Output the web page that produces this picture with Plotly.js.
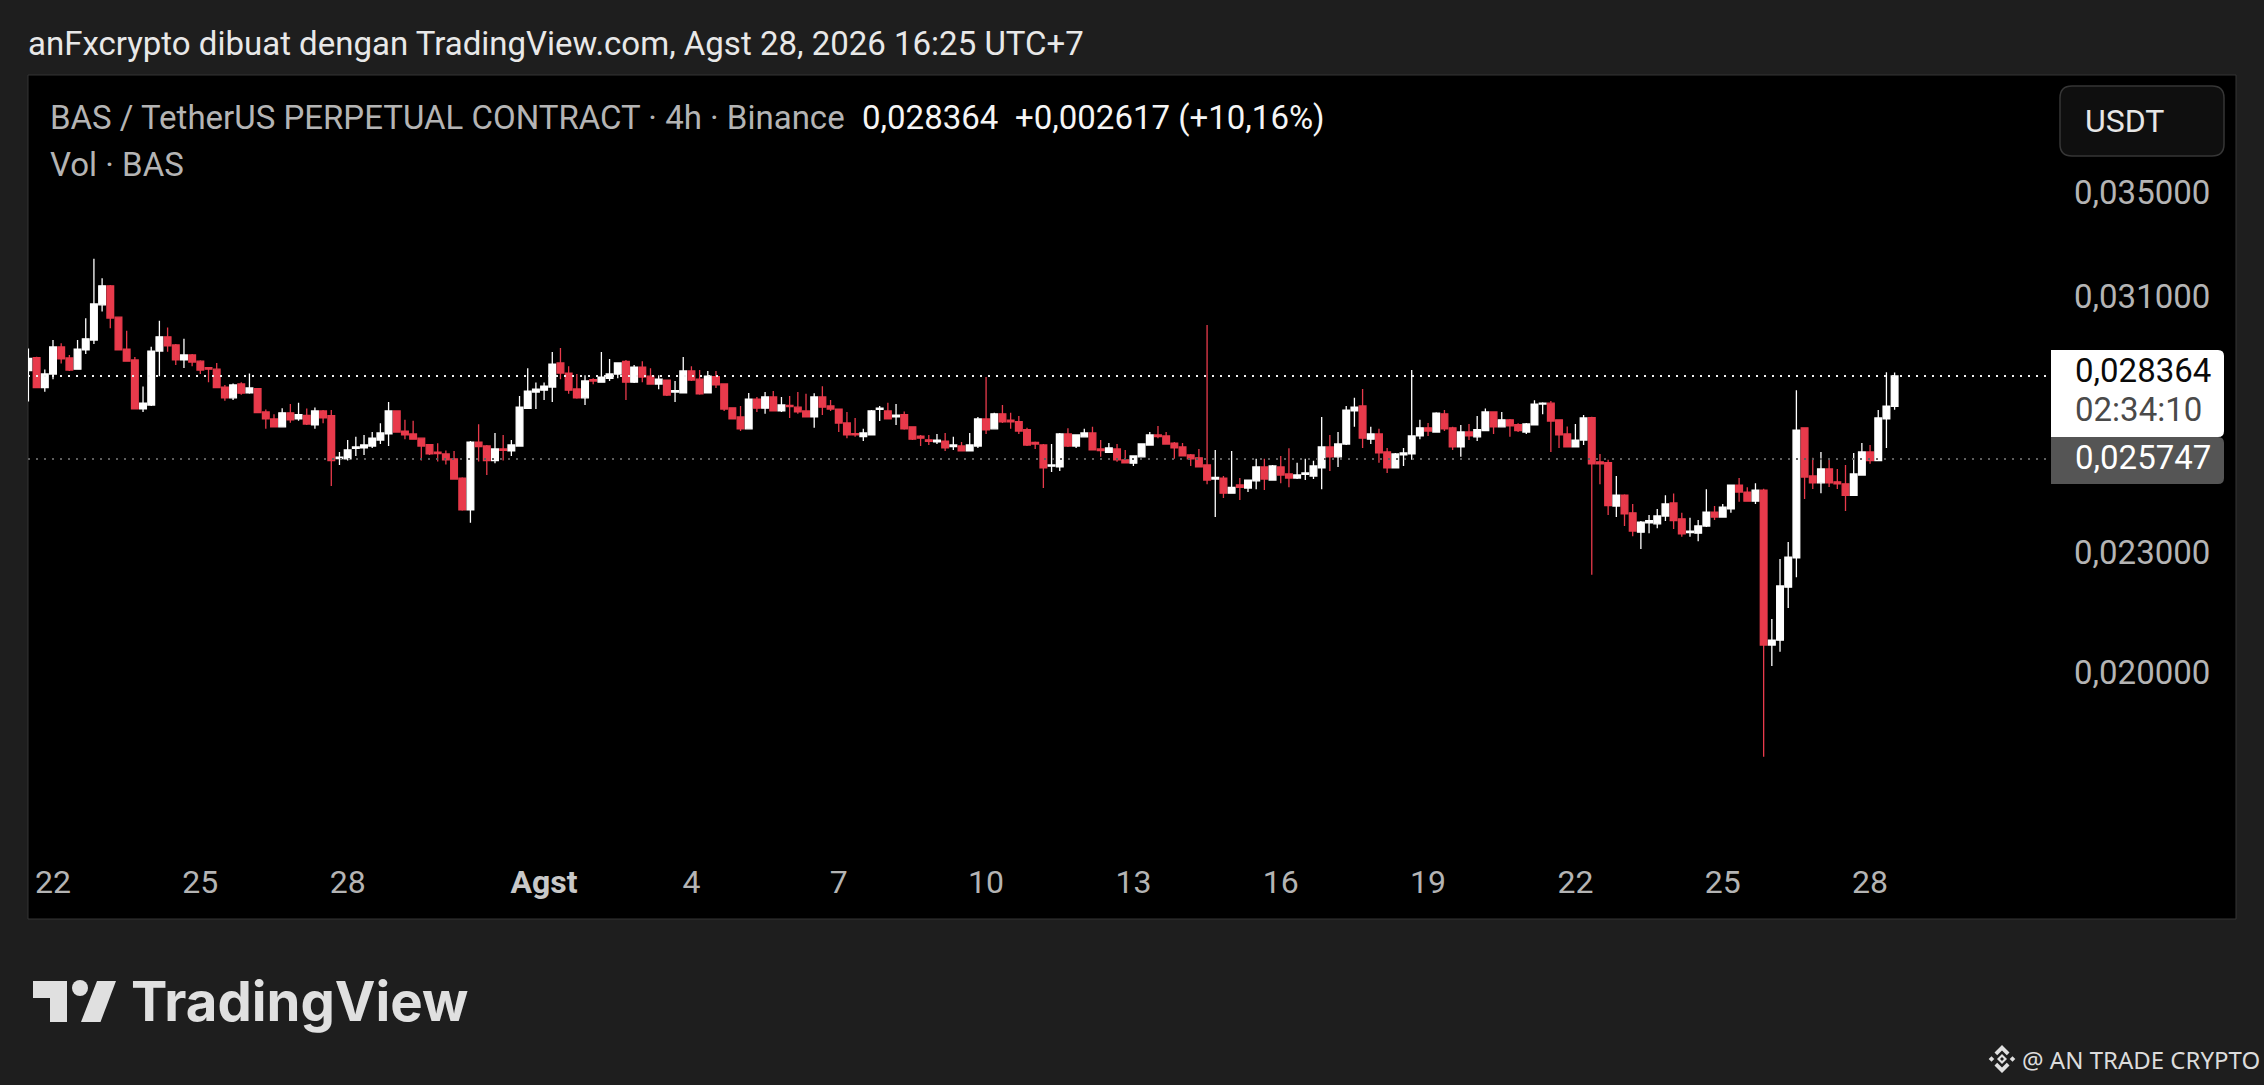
<!DOCTYPE html>
<html>
<head>
<meta charset="utf-8">
<script src="https://cdn.plot.ly/plotly-3.0.0.min.js"></script>
<style>html,body{margin:0;padding:0;background:#1e1e1e;overflow:hidden}</style>
</head>
<body>
<div id="chart" style="width:2264px;height:1085px"></div>
<script>
const opens = [0.02854,0.02898,0.02798,0.02843,0.02934,0.02897,0.02859,0.02924,0.02958,0.03082,
0.03151,0.03038,0.02927,0.02890,0.02730,0.02742,0.02920,0.02969,0.02941,0.02890,
0.02907,0.02886,0.02864,0.02859,0.02800,0.02765,0.02810,0.02781,0.02795,0.02720,
0.02698,0.02673,0.02717,0.02698,0.02709,0.02679,0.02723,0.02708,0.02576,0.02575,
0.02607,0.02608,0.02614,0.02632,0.02651,0.02723,0.02660,0.02651,0.02638,0.02618,
0.02595,0.02590,0.02575,0.02518,0.02426,0.02626,0.02614,0.02570,0.02605,0.02599,
0.02614,0.02731,0.02784,0.02790,0.02800,0.02880,0.02846,0.02794,0.02765,0.02824,
0.02816,0.02829,0.02843,0.02885,0.02816,0.02866,0.02836,0.02810,0.02823,0.02784,
0.02781,0.02853,0.02826,0.02781,0.02834,0.02810,0.02733,0.02704,0.02667,0.02761,
0.02732,0.02768,0.02723,0.02741,0.02735,0.02723,0.02704,0.02768,0.02739,0.02729,
0.02685,0.02652,0.02643,0.02648,0.02728,0.02723,0.02704,0.02711,0.02673,0.02644,
0.02633,0.02627,0.02629,0.02612,0.02614,0.02599,0.02614,0.02698,0.02667,0.02714,
0.02694,0.02689,0.02664,0.02625,0.02617,0.02553,0.02551,0.02651,0.02614,0.02642,
0.02654,0.02605,0.02595,0.02605,0.02572,0.02562,0.02581,0.02617,0.02648,0.02645,
0.02623,0.02611,0.02587,0.02578,0.02557,0.02515,0.02518,0.02474,0.02498,0.02489,
0.02510,0.02551,0.02512,0.02551,0.02530,0.02518,0.02529,0.02524,0.02548,0.02611,
0.02581,0.02620,0.02723,0.02739,0.02635,0.02651,0.02596,0.02548,0.02587,0.02590,
0.02645,0.02670,0.02657,0.02714,0.02670,0.02611,0.02657,0.02642,0.02661,0.02720,
0.02673,0.02695,0.02680,0.02657,0.02679,0.02745,0.02748,0.02695,0.02651,0.02611,
0.02632,0.02702,0.02566,0.02564,0.02437,0.02468,0.02418,0.02364,0.02390,0.02387,
0.02409,0.02446,0.02401,0.02363,0.02361,0.02381,0.02420,0.02406,0.02429,0.02497,
0.02477,0.02451,0.02483,0.02072,0.02084,0.02217,0.02294,0.02670,0.02524,0.02504,
0.02545,0.02507,0.02501,0.02468,0.02527,0.02596,0.02570,0.02698,0.02738];

const closes = [0.02895,0.02798,0.02843,0.02934,0.02894,0.02856,0.02927,0.02962,0.03085,0.03151,
0.03035,0.02924,0.02886,0.02730,0.02748,0.02920,0.02969,0.02938,0.02890,0.02907,
0.02883,0.02856,0.02859,0.02798,0.02765,0.02807,0.02780,0.02797,0.02718,0.02698,
0.02673,0.02717,0.02695,0.02711,0.02682,0.02723,0.02701,0.02570,0.02580,0.02602,
0.02611,0.02617,0.02638,0.02654,0.02723,0.02657,0.02648,0.02635,0.02614,0.02590,
0.02591,0.02572,0.02515,0.02426,0.02626,0.02612,0.02570,0.02605,0.02601,0.02617,
0.02735,0.02787,0.02793,0.02803,0.02876,0.02846,0.02790,0.02765,0.02820,0.02820,
0.02833,0.02843,0.02880,0.02816,0.02866,0.02833,0.02810,0.02826,0.02774,0.02788,
0.02853,0.02823,0.02778,0.02836,0.02807,0.02729,0.02698,0.02667,0.02761,0.02732,
0.02768,0.02723,0.02742,0.02737,0.02720,0.02704,0.02768,0.02735,0.02729,0.02685,
0.02648,0.02648,0.02654,0.02723,0.02732,0.02698,0.02710,0.02667,0.02635,0.02638,
0.02628,0.02632,0.02608,0.02617,0.02599,0.02617,0.02698,0.02664,0.02714,0.02689,
0.02689,0.02660,0.02617,0.02620,0.02548,0.02557,0.02651,0.02614,0.02648,0.02654,
0.02602,0.02600,0.02608,0.02572,0.02563,0.02584,0.02620,0.02648,0.02643,0.02620,
0.02608,0.02584,0.02575,0.02551,0.02512,0.02520,0.02474,0.02491,0.02491,0.02512,
0.02551,0.02515,0.02554,0.02527,0.02518,0.02527,0.02533,0.02554,0.02611,0.02581,
0.02620,0.02726,0.02735,0.02638,0.02651,0.02593,0.02548,0.02590,0.02593,0.02645,
0.02670,0.02660,0.02716,0.02667,0.02611,0.02657,0.02645,0.02664,0.02720,0.02673,
0.02695,0.02676,0.02661,0.02682,0.02745,0.02748,0.02691,0.02648,0.02611,0.02632,
0.02701,0.02560,0.02560,0.02438,0.02468,0.02415,0.02367,0.02392,0.02396,0.02409,
0.02443,0.02396,0.02359,0.02367,0.02381,0.02420,0.02406,0.02434,0.02497,0.02477,
0.02451,0.02483,0.02072,0.02084,0.02220,0.02296,0.02663,0.02521,0.02504,0.02545,
0.02504,0.02501,0.02468,0.02530,0.02596,0.02570,0.02701,0.02738,0.028364];

const highs = [0.02929,0.02901,0.02858,0.02958,0.02947,0.02907,0.02958,0.03034,0.03252,0.03179,
0.03154,0.03038,0.02990,0.02900,0.02802,0.02935,0.03025,0.03002,0.02944,0.02962,
0.02910,0.02889,0.02865,0.02880,0.02807,0.02812,0.02816,0.02845,0.02796,0.02728,
0.02713,0.02732,0.02745,0.02749,0.02731,0.02734,0.02726,0.02726,0.02596,0.02632,
0.02642,0.02648,0.02657,0.02684,0.02752,0.02725,0.02695,0.02692,0.02640,0.02620,
0.02622,0.02600,0.02599,0.02520,0.02629,0.02681,0.02617,0.02654,0.02648,0.02632,
0.02771,0.02862,0.02815,0.02815,0.02917,0.02931,0.02869,0.02843,0.02839,0.02829,
0.02917,0.02893,0.02880,0.02890,0.02873,0.02886,0.02862,0.02839,0.02823,0.02820,
0.02900,0.02869,0.02856,0.02853,0.02853,0.02810,0.02735,0.02739,0.02781,0.02768,
0.02784,0.02787,0.02768,0.02771,0.02784,0.02778,0.02780,0.02803,0.02758,0.02729,
0.02720,0.02701,0.02667,0.02726,0.02739,0.02749,0.02745,0.02721,0.02673,0.02648,
0.02648,0.02651,0.02654,0.02642,0.02626,0.02654,0.02704,0.02833,0.02717,0.02742,
0.02717,0.02707,0.02670,0.02628,0.02620,0.02620,0.02654,0.02669,0.02648,0.02667,
0.02673,0.02632,0.02623,0.02620,0.02602,0.02584,0.02622,0.02657,0.02676,0.02657,
0.02626,0.02623,0.02590,0.02605,0.03010,0.02602,0.02524,0.02599,0.02518,0.02512,
0.02575,0.02575,0.02557,0.02584,0.02607,0.02563,0.02575,0.02569,0.02704,0.02648,
0.02657,0.02739,0.02765,0.02794,0.02673,0.02667,0.02608,0.02593,0.02608,0.02856,
0.02695,0.02685,0.02719,0.02726,0.02673,0.02679,0.02682,0.02707,0.02731,0.02720,
0.02720,0.02698,0.02684,0.02685,0.02757,0.02751,0.02755,0.02695,0.02674,0.02682,
0.02710,0.02705,0.02590,0.02572,0.02524,0.02471,0.02443,0.02395,0.02412,0.02429,
0.02468,0.02473,0.02418,0.02404,0.02398,0.02485,0.02437,0.02443,0.02497,0.02518,
0.02491,0.02503,0.02487,0.02136,0.02291,0.02337,0.02790,0.02670,0.02578,0.02596,
0.02572,0.02545,0.02557,0.02593,0.02623,0.02617,0.02726,0.02849,0.02848];

const lows = [0.02753,0.02798,0.02785,0.02826,0.02878,0.02853,0.02859,0.02910,0.02944,0.03058,
0.02999,0.02924,0.02886,0.02730,0.02720,0.02739,0.02836,0.02918,0.02873,0.02863,
0.02869,0.02843,0.02816,0.02798,0.02756,0.02758,0.02775,0.02778,0.02718,0.02667,
0.02671,0.02673,0.02686,0.02692,0.02679,0.02667,0.02684,0.02495,0.02557,0.02570,
0.02584,0.02587,0.02608,0.02620,0.02614,0.02657,0.02635,0.02635,0.02570,0.02587,
0.02567,0.02558,0.02515,0.02424,0.02390,0.02567,0.02527,0.02562,0.02570,0.02584,
0.02614,0.02729,0.02729,0.02758,0.02752,0.02826,0.02778,0.02762,0.02742,0.02809,
0.02816,0.02820,0.02829,0.02758,0.02813,0.02816,0.02810,0.02793,0.02771,0.02752,
0.02781,0.02820,0.02775,0.02781,0.02797,0.02723,0.02698,0.02660,0.02667,0.02720,
0.02714,0.02723,0.02720,0.02701,0.02714,0.02704,0.02670,0.02710,0.02723,0.02657,
0.02638,0.02642,0.02629,0.02648,0.02691,0.02698,0.02679,0.02664,0.02632,0.02614,
0.02617,0.02620,0.02599,0.02602,0.02599,0.02599,0.02608,0.02651,0.02667,0.02685,
0.02667,0.02651,0.02614,0.02605,0.02489,0.02536,0.02539,0.02611,0.02608,0.02642,
0.02602,0.02581,0.02593,0.02566,0.02562,0.02554,0.02581,0.02617,0.02638,0.02620,
0.02575,0.02584,0.02554,0.02551,0.02500,0.02406,0.02460,0.02474,0.02454,0.02477,
0.02485,0.02483,0.02512,0.02503,0.02491,0.02515,0.02512,0.02515,0.02485,0.02539,
0.02551,0.02617,0.02673,0.02608,0.02620,0.02563,0.02533,0.02548,0.02554,0.02572,
0.02635,0.02645,0.02655,0.02660,0.02602,0.02581,0.02632,0.02629,0.02661,0.02651,
0.02673,0.02642,0.02657,0.02651,0.02679,0.02713,0.02596,0.02608,0.02611,0.02611,
0.02617,0.02249,0.02500,0.02412,0.02406,0.02381,0.02353,0.02318,0.02361,0.02375,
0.02395,0.02373,0.02351,0.02351,0.02339,0.02378,0.02398,0.02404,0.02418,0.02449,
0.02451,0.02443,0.01819,0.02022,0.02056,0.02164,0.02243,0.02457,0.02486,0.02474,
0.02492,0.02486,0.02423,0.02468,0.02527,0.02560,0.02570,0.02608,0.02727];

const firstCandle = '2026-07-21T12:00:00Z';
const candleHours = 4;
const xTickDates = ['2026-07-22','2026-07-25','2026-07-28','2026-08-01','2026-08-04','2026-08-07','2026-08-10','2026-08-13','2026-08-16','2026-08-19','2026-08-22','2026-08-25','2026-08-28'];
const xTickLabels = ['22','25','28','<span style="color:#c8c8c8"><b>Agst</b></span>','4','7','10','13','16','19','22','25','28'];
const yTickValues = [0.035,0.031,0.023,0.02];
const yTickLabels = ['0,035000','0,031000','0,023000','0,020000'];
const lastPrice = 0.028364;
const prevPrice = 0.025747;

const GRAY = '#b4b4b4', RED = '#e83a4b', WHITE = '#ffffff', FONT = 'Roboto, sans-serif';
const PL = 28, PR = 2048, PT = 75, PB = 860;
const W = PR - PL, H = PB - PT;
const fx = px => (px - PL) / W;
const fy = py => (PB - py) / H;
const pathOf = pts => pts.map((p, i) => (i ? 'L' : 'M') + fx(p[0]) + ',' + fy(p[1])).join(' ') + ' Z';

const startMs = Date.parse(firstCandle), stepMs = candleHours * 3600e3;
const dateAt = i => new Date(startMs + i * stepMs).toISOString().slice(0, 19).replace('T', ' ');
const dates = opens.map((_, i) => dateAt(i));

const trace = {
  type: 'candlestick', x: dates, open: opens, high: highs, low: lows, close: closes,
  increasing: {line: {color: WHITE, width: 1.3}, fillcolor: WHITE},
  decreasing: {line: {color: RED, width: 1.3}, fillcolor: RED},
  whiskerwidth: 0, hoverinfo: 'skip', showlegend: false
};

function rrect(x0, y0, x1, y1, r, left) {
  const c = left ? r : 0;
  return 'M' + fx(x0 + c) + ',' + fy(y0) + ' L' + fx(x1 - r) + ',' + fy(y0) +
    ' Q' + fx(x1) + ',' + fy(y0) + ' ' + fx(x1) + ',' + fy(y0 + r) +
    ' L' + fx(x1) + ',' + fy(y1 - r) +
    ' Q' + fx(x1) + ',' + fy(y1) + ' ' + fx(x1 - r) + ',' + fy(y1) +
    ' L' + fx(x0 + c) + ',' + fy(y1) +
    (left ? ' Q' + fx(x0) + ',' + fy(y1) + ' ' + fx(x0) + ',' + fy(y1 - r) +
            ' L' + fx(x0) + ',' + fy(y0 + r) +
            ' Q' + fx(x0) + ',' + fy(y0) + ' ' + fx(x0 + r) + ',' + fy(y0) : ' L' + fx(x0) + ',' + fy(y0)) + ' Z';
}
const paper = {xref: 'paper', yref: 'paper'};
const fillShape = (path, color, layer) => Object.assign({type: 'path', path, fillcolor: color, line: {width: 0}, layer: layer || 'above'}, paper);

const LOGO = '#e0e0e0', BX = 2002, BY = 1059;
const diamond = (cx, cy, h) => pathOf([[cx, cy - h], [cx + h, cy], [cx, cy + h], [cx - h, cy]]);
const chevron = s => pathOf([[BX, BY - 14 * s], [BX + 7.5, BY - 6.5 * s], [BX + 4.8, BY - 3.8 * s], [BX, BY - 8.5 * s], [BX - 4.8, BY - 3.8 * s], [BX - 7.5, BY - 6.5 * s]]);

const shapes = [
  Object.assign({type: 'rect', x0: fx(28), x1: fx(2236), y0: fy(919), y1: fy(75), fillcolor: '#000000', line: {color: '#343434', width: 1}, layer: 'below'}, paper),
  {type: 'line', xref: 'paper', yref: 'y', x0: 0, x1: fx(2047), y0: lastPrice, y1: lastPrice, line: {color: '#f0f0f0', width: 2, dash: '2px,6px'}, layer: 'above'},
  {type: 'line', xref: 'paper', yref: 'y', x0: 0, x1: fx(2047), y0: prevPrice, y1: prevPrice, line: {color: '#5e5e5e', width: 2, dash: '2px,6px'}, layer: 'above'},
  Object.assign({type: 'path', path: rrect(2060, 86, 2224, 156, 12, true), fillcolor: '#0f0f0f', line: {color: '#363636', width: 1.5}, layer: 'above'}, paper),
  fillShape(rrect(2051, 350, 2224, 437, 6), '#ffffff'),
  fillShape(rrect(2051, 437, 2224, 484, 6), '#555555'),
  // TradingView mark
  fillShape(pathOf([[33, 981], [67, 981], [67, 1022], [50, 1022], [50, 998], [33, 998]]), LOGO),
  fillShape(pathOf([[97, 981], [116, 981], [100.5, 1022], [81, 1022]]), LOGO),
  Object.assign({type: 'circle', x0: fx(72), x1: fx(88), y0: fy(996), y1: fy(980), fillcolor: LOGO, line: {width: 0}, layer: 'above'}, paper),
  // Binance-style mark
  fillShape(chevron(1), LOGO), fillShape(chevron(-1), LOGO),
  fillShape(diamond(BX - 10.5, BY, 2.8), LOGO), fillShape(diamond(BX + 10.5, BY, 2.8), LOGO),
  fillShape(diamond(BX, BY, 5), LOGO), fillShape(diamond(BX, BY, 2), '#1e1e1e')
];

const note = (text, x, y, size, color, extra) => Object.assign({
  text, xref: 'paper', yref: 'paper', x: fx(x), y: fy(y), xanchor: 'left', yanchor: 'middle',
  showarrow: false, align: 'left', font: {family: FONT, size, color}
}, extra || {});

const annotations = [
  note('BAS / TetherUS PERPETUAL CONTRACT · 4h · Binance', 48, 117, 33, GRAY),
  note('0,028364', 860, 117, 33, '#f5f5f5'),
  note('+0,002617 (+10,16%)', 1013, 117, 33, '#f5f5f5'),
  note('Vol · BAS', 48, 164, 33, GRAY),
  note('USDT', 2083, 121, 32, '#e6e6e6'),
  note('0,028364', 2073, 370, 33, '#0a0a0a'),
  note('02:34:10', 2073, 409, 33, '#4a4a4a'),
  note('0,025747', 2073, 457, 33, '#ffffff'),
  note('TradingView', 129, 1001, 54.5, LOGO, {font: {family: 'Inter, sans-serif', size: 54.5, color: LOGO, weight: 700}}),
  note('@ AN TRADE CRYPTO', 2020, 1059, 24, '#dcdcdc', {font: {family: '"Noto Sans", sans-serif', size: 24, color: '#dcdcdc'}})
];

const layout = {
  width: 2264, height: 1085, autosize: false,
  paper_bgcolor: '#1e1e1e', plot_bgcolor: 'rgba(0,0,0,0)',
  margin: {l: PL, r: 2264 - PR, t: PT, b: 1085 - PB, pad: 0},
  title: {text: 'anFxcrypto dibuat dengan TradingView.com, Agst 28, 2026 16:25 UTC+7',
    x: PL / 2264, xanchor: 'left', xref: 'container', y: 1 - 43 / 1085, yref: 'container', yanchor: 'middle',
    font: {family: FONT, size: 33, color: '#e8e8e8'}},
  showlegend: false, hovermode: false, boxgap: 0.18, boxgroupgap: 0,
  xaxis: {type: 'date', range: [dateAt(-0.054), dateAt(246.74)], rangeslider: {visible: false},
    showgrid: false, zeroline: false, showline: false, ticks: '', tickmode: 'array',
    tickvals: xTickDates, ticktext: xTickLabels, tickangle: 0, ticklabelstandoff: 0,
    tickfont: {family: FONT, size: 32, color: GRAY}},
  yaxis: {type: 'log', side: 'right', range: [Math.log10(0.016125), Math.log10(0.0403)], autorange: false,
    showgrid: false, zeroline: false, showline: false, ticks: '', tickmode: 'array',
    tickvals: yTickValues, ticktext: yTickLabels, ticklabelstandoff: 25, ticklabelshift: -3,
    tickfont: {family: FONT, size: 33, color: GRAY}},
  shapes, annotations
};

Plotly.newPlot('chart', [trace], layout, {displayModeBar: false, staticPlot: true});
</script>
</body>
</html>
